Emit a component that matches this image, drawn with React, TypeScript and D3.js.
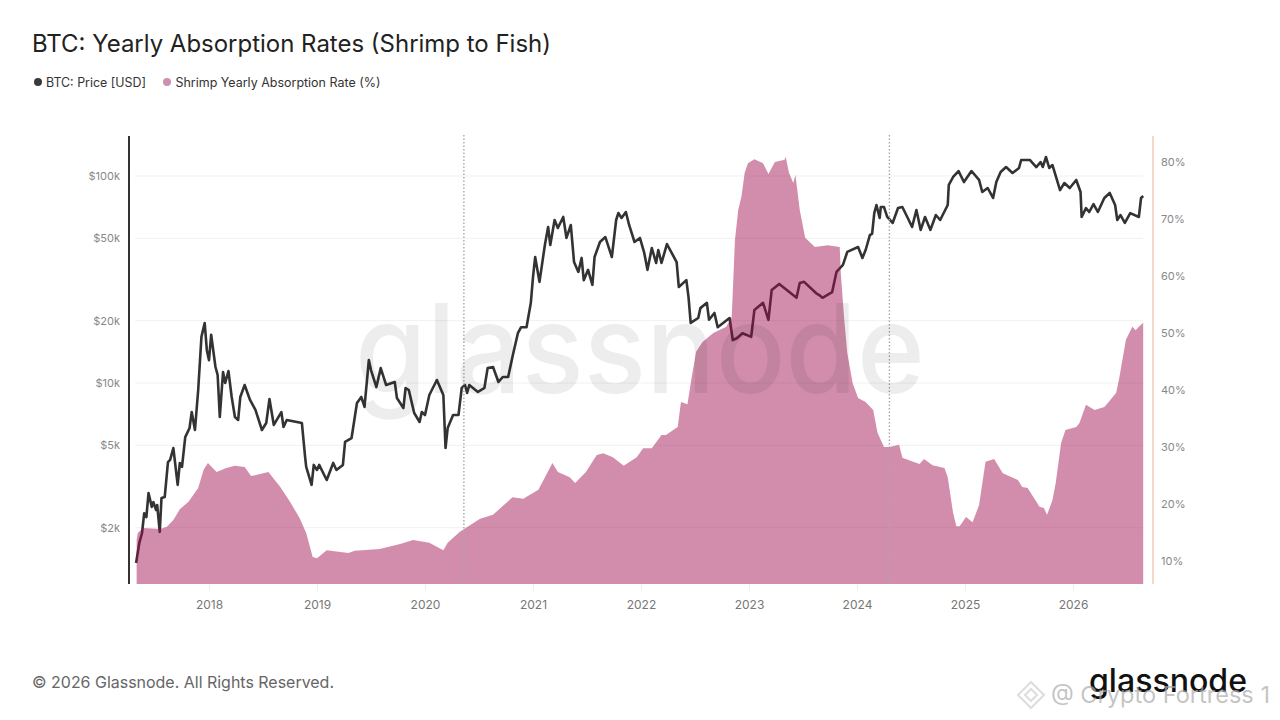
import * as React from 'react';
import * as d3 from 'd3';

const priceYears = [
  2017.325, 2017.355, 2017.38, 2017.40, 2017.42, 2017.44, 2017.47, 2017.485, 2017.51, 2017.52, 2017.544, 2017.56, 2017.59, 2017.62, 2017.64, 2017.67, 2017.71, 2017.73, 2017.75, 2017.78, 2017.82, 2017.84, 2017.87, 2017.90, 2017.93, 2017.96, 2017.98,
  2018.00, 2018.02, 2018.06, 2018.08, 2018.10, 2018.13, 2018.15, 2018.18, 2018.21, 2018.24, 2018.27, 2018.29, 2018.33, 2018.38, 2018.43, 2018.49, 2018.53, 2018.56, 2018.60, 2018.67, 2018.69, 2018.72, 2018.86, 2018.89, 2018.90, 2018.95, 2018.97,
  2019.00, 2019.02, 2019.09, 2019.15, 2019.18, 2019.24, 2019.26, 2019.32, 2019.35, 2019.37, 2019.41, 2019.44, 2019.48, 2019.50, 2019.55, 2019.59, 2019.64, 2019.72, 2019.74, 2019.80, 2019.82, 2019.85, 2019.90, 2019.95, 2019.97,
  2020.00, 2020.04, 2020.11, 2020.17, 2020.19, 2020.21, 2020.26, 2020.31, 2020.34, 2020.37, 2020.39, 2020.41, 2020.49, 2020.55, 2020.58, 2020.63, 2020.68, 2020.72, 2020.77, 2020.81, 2020.86, 2020.89, 2020.94, 2020.98,
  2021.00, 2021.02, 2021.06, 2021.11, 2021.14, 2021.16, 2021.20, 2021.23, 2021.28, 2021.31, 2021.35, 2021.38, 2021.42, 2021.45, 2021.47, 2021.51, 2021.55, 2021.57, 2021.62, 2021.67, 2021.73, 2021.77, 2021.79, 2021.82, 2021.86, 2021.89, 2021.94, 2021.99,
  2022.03, 2022.06, 2022.10, 2022.14, 2022.16, 2022.19, 2022.24, 2022.33, 2022.35, 2022.42, 2022.44, 2022.46, 2022.53, 2022.55, 2022.61, 2022.63, 2022.68, 2022.71, 2022.82, 2022.85, 2022.89, 2022.94,
  2023.02, 2023.05, 2023.13, 2023.18, 2023.21, 2023.28, 2023.44, 2023.47, 2023.51, 2023.62, 2023.65, 2023.68, 2023.77, 2023.81, 2023.87, 2023.91,
  2024.01, 2024.05, 2024.08, 2024.12, 2024.14, 2024.16, 2024.18, 2024.21, 2024.22, 2024.25, 2024.28, 2024.33, 2024.38, 2024.42, 2024.47, 2024.51, 2024.55, 2024.59, 2024.63, 2024.68, 2024.73, 2024.77, 2024.84, 2024.85, 2024.89, 2024.94, 2024.99,
  2025.06, 2025.13, 2025.16, 2025.21, 2025.26, 2025.29, 2025.33, 2025.38, 2025.44, 2025.50, 2025.52, 2025.60, 2025.66, 2025.70, 2025.72, 2025.75, 2025.78, 2025.81, 2025.88, 2025.92, 2025.97,
  2026.03, 2026.07, 2026.08, 2026.12, 2026.15, 2026.19, 2026.23, 2026.29, 2026.34, 2026.39, 2026.41, 2026.44, 2026.48, 2026.53, 2026.61, 2026.63, 2026.65,
];
const priceUsd = [
  1350, 1690, 1885, 2350, 2252, 2940, 2520, 2660, 2435, 2575, 1910, 2780, 2810, 4150, 4250, 4850, 3220, 4110, 3930, 5480, 6060, 7240, 5930, 9250, 16700, 19500, 14400,
  12900, 17100, 11950, 10930, 6850, 11300, 10000, 11430, 8560, 6850, 6630, 8560, 9780, 8280, 7410, 5930, 6410, 8370, 6270, 7240, 6130, 6630, 6410, 4390, 3930, 3220, 4020,
  3800, 4020, 3400, 4110, 3800, 4020, 5190, 5420, 6850, 8000, 8560, 7660, 12900, 11550, 9560, 11800, 9780, 10110, 8460, 7570, 9460, 9250, 7160, 6480, 7240,
  7000, 8750, 10340, 8750, 4850, 6060, 7000, 7000, 9460, 9780, 8950, 9780, 9050, 9460, 11800, 11950, 10110, 10690, 10690, 13400, 17400, 18600, 18600, 24400,
  32500, 40600, 30800, 46400, 56700, 46400, 61300, 56100, 63400, 50200, 58000, 38400, 34400, 40200, 31400, 35200, 29800, 40600, 48000, 50700, 40600, 61300, 66200, 62700, 67000, 58000, 48000, 50200,
  42500, 35200, 44900, 38000, 43900, 38000, 46900, 38400, 29100, 31400, 26000, 19500, 20600, 23000, 24400, 20200, 21800, 18600, 20600, 16100, 16500, 17400,
  16700, 22500, 24400, 20200, 28100, 30100, 25800, 30400, 30800, 27200, 26600, 25800, 27500, 34400, 37200, 43000,
  45400, 40200, 43900, 51900, 52500, 66200, 72400, 62700, 70800, 70800, 63400, 59300, 70000, 70800, 62700, 56700, 68500, 54900, 63400, 54900, 64800, 61300, 72400, 90500, 98900, 105700, 93500,
  105700, 95700, 83700, 87500, 78300, 93500, 104500, 110500, 103400, 109300, 119500, 119500, 110500, 116800, 110500, 123500, 109300, 113000, 85500, 92500, 87500,
  95700, 83700, 63400, 70000, 67000, 73200, 67000, 78300, 82800, 72400, 61300, 64800, 59300, 66200, 63400, 78300, 80000,
];

const shrimpYears = [
  2017.33, 2017.34, 2017.39, 2017.55, 2017.61, 2017.67, 2017.73, 2017.81, 2017.90, 2017.95, 2017.99,
  2018.07, 2018.16, 2018.24, 2018.33, 2018.39, 2018.55, 2018.66, 2018.75, 2018.84, 2018.90, 2018.96,
  2019.00, 2019.09, 2019.29, 2019.35, 2019.58, 2019.77, 2019.89,
  2020.04, 2020.17, 2020.21, 2020.32, 2020.51, 2020.63, 2020.81, 2020.91,
  2021.05, 2021.18, 2021.23, 2021.34, 2021.39, 2021.49, 2021.59, 2021.65, 2021.74, 2021.84, 2021.96,
  2022.02, 2022.10, 2022.19, 2022.23, 2022.34, 2022.37, 2022.43, 2022.47, 2022.51, 2022.57, 2022.67, 2022.79, 2022.84, 2022.87, 2022.90, 2022.93, 2022.96, 2022.99,
  2023.05, 2023.13, 2023.18, 2023.24, 2023.33, 2023.34, 2023.37, 2023.41, 2023.43, 2023.47, 2023.52, 2023.61, 2023.73, 2023.84, 2023.85, 2023.88, 2023.91, 2023.96,
  2024.01, 2024.08, 2024.15, 2024.19, 2024.25, 2024.30, 2024.39, 2024.42, 2024.52, 2024.58, 2024.62, 2024.70, 2024.81, 2024.84, 2024.89, 2024.92, 2024.95,
  2025.01, 2025.07, 2025.13, 2025.19, 2025.27, 2025.35, 2025.49, 2025.53, 2025.58, 2025.69, 2025.73, 2025.76, 2025.81, 2025.84, 2025.89, 2025.93,
  2026.03, 2026.06, 2026.12, 2026.20, 2026.29, 2026.33, 2026.40, 2026.43, 2026.49, 2026.55, 2026.58, 2026.61, 2026.65,
];
const shrimpRate = [
  13.7, 14.9, 15.8, 15.6, 16, 17.2, 19.1, 20.4, 22.8, 26, 27.2,
  25.6, 26.3, 26.7, 26.5, 24.9, 25.6, 23, 20.4, 17.5, 14.9, 10.7,
  10.5, 11.9, 11.4, 11.8, 12.1, 13, 13.7,
  13.2, 11.9, 13.2, 15.1, 17.4, 18.1, 21.2, 20.9,
  22.5, 27.2, 25.6, 24.7, 23.7, 25.6, 28.6, 28.9, 28.2, 26.7, 28.2,
  29.8, 29.8, 32.1, 32.1, 33.5, 37.9, 37.5, 42.3, 46.7, 48.4, 50, 51.1, 52.8, 66.3, 71.6, 73.9, 78.1, 79.8,
  80.5, 79.8, 77.9, 80, 80.4, 80.9, 78.1, 76.3, 77.7, 71.6, 66.7, 65.1, 65.4, 65.1, 60.5, 52.8, 46.5, 41.2,
  38.6, 37.9, 36.5, 32.5, 30, 30, 30.4, 28.1, 27.4, 27, 27.9, 26.8, 26.3, 24.7, 18.4, 16.1, 16.1,
  17.7, 16.8, 19.8, 27.4, 27.9, 25.4, 24.2, 23, 22.8, 19.5, 19.3, 18.1, 20.7, 23.7, 30.7, 33,
  33.5, 34.2, 37.4, 36.5, 37, 37.9, 39.5, 42.3, 48.8, 51.1, 50.5, 51.1, 51.8,
];

const yearTicks = [2018, 2019, 2020, 2021, 2022, 2023, 2024, 2025, 2026];
const priceTicks = [2000, 5000, 10000, 20000, 50000, 100000];
const rateTicks = [10, 20, 30, 40, 50, 60, 70, 80];
const halvingYears = [2020.36, 2024.30];

const INTER = 'Inter, "Noto Sans", sans-serif';

export default function App() {
  const ref = React.useRef<SVGSVGElement>(null);

  React.useEffect(() => {
    const svg = d3.select(ref.current);
    svg.selectAll('*').remove();

    // 2018 sits at 209px and each year is 108px wide
    const x = d3.scaleLinear().domain([2018, 2026]).range([209, 1073]);
    const yPrice = d3.scaleLog().domain([10000, 100000]).range([383, 176]);
    const yRate = d3.scaleLinear().domain([10, 80]).range([561, 162]);
    const bottom = 584;

    // title and legend
    svg.append('text').attr('x', 32).attr('y', 52)
      .style('font-family', INTER).style('font-size', '24px').attr('fill', '#222')
      .attr('textLength', 519).attr('lengthAdjust', 'spacingAndGlyphs')
      .text('BTC: Yearly Absorption Rates (Shrimp to Fish)');
    svg.append('circle').attr('cx', 38).attr('cy', 82).attr('r', 4).attr('fill', '#3a3a3a');
    svg.append('text').attr('x', 46).attr('y', 86.5)
      .style('font-family', INTER).style('font-size', '12.5px').attr('fill', '#333')
      .attr('textLength', 100).attr('lengthAdjust', 'spacingAndGlyphs')
      .text('BTC: Price [USD]');
    svg.append('circle').attr('cx', 167).attr('cy', 82).attr('r', 4).attr('fill', '#cf8fae');
    svg.append('text').attr('x', 175.5).attr('y', 86.5)
      .style('font-family', INTER).style('font-size', '12.5px').attr('fill', '#333')
      .attr('textLength', 205).attr('lengthAdjust', 'spacingAndGlyphs')
      .text('Shrimp Yearly Absorption Rate (%)');

    // grid
    svg.append('g').selectAll('line').data(priceTicks).join('line')
      .attr('x1', 135).attr('x2', 1143)
      .attr('y1', d => yPrice(d)).attr('y2', d => yPrice(d))
      .attr('stroke', '#f1f1f1').attr('stroke-width', 1);

    // left axis
    const leftAxis = d3.axisLeft(yPrice).tickValues(priceTicks).tickSize(0).tickPadding(0)
      .tickFormat(d => '$' + (+d / 1000) + 'k');
    const gl = svg.append('g').attr('transform', 'translate(120,0)').call(leftAxis);
    gl.select('.domain').remove();
    gl.selectAll('text').style('font-family', INTER).style('font-size', '11px').attr('fill', '#888');
    svg.append('line').attr('x1', 129).attr('x2', 129).attr('y1', 136).attr('y2', bottom)
      .attr('stroke', '#333').attr('stroke-width', 2);

    // right axis
    const rightAxis = d3.axisRight(yRate).tickValues(rateTicks).tickSize(0).tickPadding(0)
      .tickFormat(d => d + '%');
    const gr = svg.append('g').attr('transform', 'translate(1161,0)').call(rightAxis);
    gr.select('.domain').remove();
    gr.selectAll('text').style('font-family', INTER).style('font-size', '11px').attr('fill', '#888');
    svg.append('line').attr('x1', 1153).attr('x2', 1153).attr('y1', 136).attr('y2', bottom)
      .attr('stroke', '#f4d8cb').attr('stroke-width', 2);

    // bottom axis
    const xAxis = d3.axisBottom(x).tickValues(yearTicks).tickSize(7).tickPadding(9)
      .tickFormat(d => String(d));
    const gx = svg.append('g').attr('transform', `translate(0,${bottom})`).call(xAxis);
    gx.select('.domain').remove();
    gx.selectAll('line').attr('stroke', '#eee');
    gx.selectAll('text').style('font-family', INTER).style('font-size', '12px').attr('fill', '#777');

    // price first, the translucent area then tints it
    const priceData = priceYears.map((y, i) => ({ year: y, value: priceUsd[i] }));
    const priceLine = d3.line<any>().x(d => x(d.year)).y(d => yPrice(d.value));
    svg.append('path').datum(priceData).attr('d', priceLine)
      .attr('fill', 'none').attr('stroke', '#333').attr('stroke-width', 2.6).attr('stroke-linejoin', 'round');

    const shrimpData = shrimpYears.map((y, i) => ({ year: y, value: shrimpRate[i] }));
    const shrimpArea = d3.area<any>().x(d => x(d.year)).y0(bottom).y1(d => yRate(d.value));
    svg.append('path').datum(shrimpData).attr('d', shrimpArea)
      .attr('fill', 'rgb(158,12,76)').attr('fill-opacity', 0.47);

    // dotted halving markers
    svg.append('g').selectAll('line').data(halvingYears).join('line')
      .attr('x1', d => x(d)).attr('x2', d => x(d)).attr('y1', 135).attr('y2', bottom)
      .attr('stroke', '#a8a8a8').attr('stroke-width', 1.4).attr('stroke-dasharray', '1.5,2');

    // big watermark
    svg.append('text').attr('x', 355).attr('y', 393)
      .style('font-family', INTER).style('font-size', '124px').style('font-weight', 500)
      .attr('fill', '#000').attr('fill-opacity', 0.07)
      .attr('textLength', 570).attr('lengthAdjust', 'spacingAndGlyphs')
      .text('glassnode');

    // footer
    svg.append('text').attr('x', 32).attr('y', 688)
      .style('font-family', INTER).style('font-size', '16.5px').attr('fill', '#666')
      .attr('textLength', 302).attr('lengthAdjust', 'spacingAndGlyphs')
      .text('© 2026 Glassnode. All Rights Reserved.');
    svg.append('text').attr('x', 1089).attr('y', 692)
      .style('font-family', INTER).style('font-size', '32px').style('font-weight', 500)
      .attr('fill', '#111')
      .attr('textLength', 158).attr('lengthAdjust', 'spacingAndGlyphs')
      .text('glassnode');

    // repost watermark
    const mark = svg.append('g').attr('transform', 'translate(1031,695)')
      .attr('fill', 'none').attr('stroke', '#ddd').attr('stroke-width', 2);
    mark.append('path').attr('d', d3.line()([[-13, 0], [0, -13], [13, 0], [0, 13]]) + 'Z');
    mark.append('path').attr('d', d3.line()([[-6, 0], [0, -6], [6, 0], [0, 6]]) + 'Z');
    svg.append('text').attr('x', 1051).attr('y', 703)
      .style('font-family', INTER).style('font-size', '23px')
      .attr('fill', '#aaa').attr('fill-opacity', 0.7)
      .attr('textLength', 219).attr('lengthAdjust', 'spacingAndGlyphs')
      .text('@ Crypto Fortress 1');
  }, []);

  return (
    <svg ref={ref} width={1280} height={720}
      style={{ position: 'absolute', left: 0, top: 0, background: '#fff' }} />
  );
}
